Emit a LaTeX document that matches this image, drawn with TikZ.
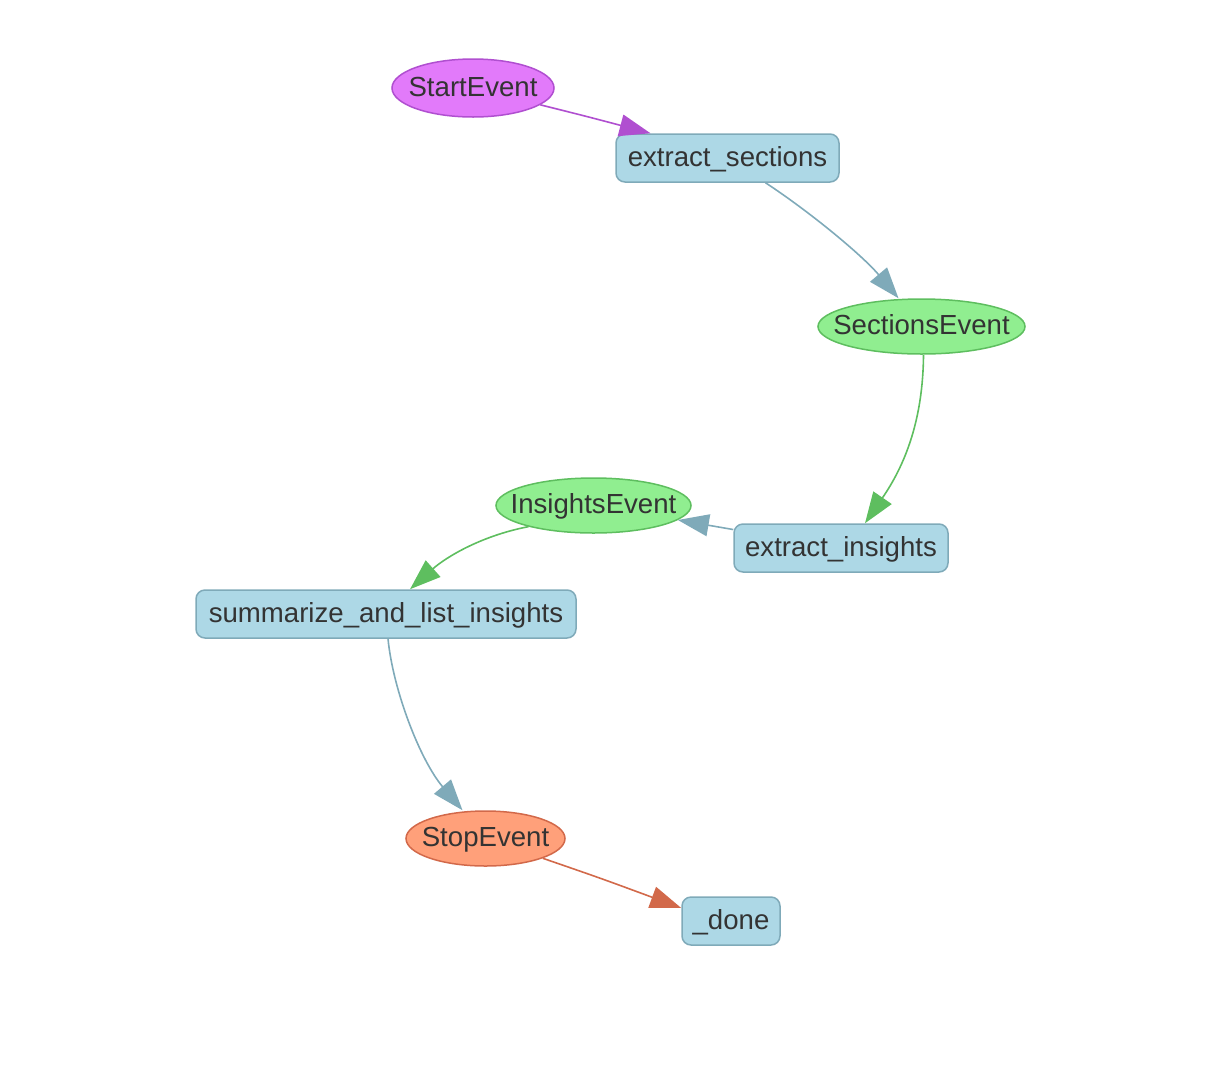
\documentclass[tikz,border=0pt]{standalone}
\usepackage{fontspec}
\setmainfont{Liberation Sans}
\usetikzlibrary{shapes.geometric,arrows.meta}
\definecolor{boxfill}{HTML}{ADD8E6}
\definecolor{boxline}{HTML}{7FAAB9}
\definecolor{startfill}{HTML}{E27AFA}
\definecolor{startline}{HTML}{B04FD0}
\definecolor{evfill}{HTML}{90EE90}
\definecolor{evline}{HTML}{5EBE5F}
\definecolor{stopfill}{HTML}{FFA07A}
\definecolor{stopline}{HTML}{D2694A}
\definecolor{txt}{HTML}{333333}
\begin{document}
\begin{tikzpicture}[x=1pt,y=-1pt,
  lbl/.style={inner sep=0pt, text height=20pt, text depth=4pt, text=txt,
    font=\fontsize{27.6}{33}\selectfont, line width=1.5pt},
  stepbox/.style={lbl, draw=boxline, fill=boxfill, rounded corners=9pt, minimum height=48pt},
  evt/.style={lbl, ellipse},
  startev/.style={evt, draw=startline, fill=startfill},
  midev/.style={evt, draw=evline, fill=evfill},
  stopev/.style={evt, draw=stopline, fill=stopfill},
  conn/.style={line width=1.6pt, -{Triangle[length=31pt,width=22pt]}}]
\useasboundingbox (0,0) rectangle (1218,1066);

\node[startev, minimum width=162pt, minimum height=58pt] (start) at (473,88) {\makebox[0pt]{StartEvent}};
\node[stepbox, minimum width=223pt] (ss) at (727.5,158) {extract\_sections};
\node[midev, minimum width=207pt, minimum height=55pt] (sev) at (921.5,326.5) {\makebox[0pt]{SectionsEvent}};
\node[stepbox, minimum width=214pt] (ei) at (841,548) {extract\_insights};
\node[midev, minimum width=195pt, minimum height=55pt] (iev) at (593.5,505.5) {\makebox[0pt]{InsightsEvent}};
\node[stepbox, minimum width=380pt] (summ) at (386,614) {summarize\_and\_list\_insights};
\node[stopev, minimum width=159pt, minimum height=55pt] (stop) at (485.5,838.5) {\makebox[0pt]{StopEvent}};
\node[stepbox, minimum width=98pt] (done) at (731,921) {\_done};

\draw[conn, draw=startline] (start) .. controls (585,116) .. ([xshift=-77pt]ss.north);
\draw[conn, draw=boxline] ([xshift=38pt]ss.south) .. controls (810,212) and (862,255) .. ([xshift=-23pt]sev.north);
\draw[conn, draw=evline] ([xshift=2pt]sev.south) .. controls (923,420) and (905,465) .. ([xshift=24pt]ei.north);
\draw[conn, draw=boxline] (ei) -- (iev);
\draw[conn, draw=evline] (iev.198) .. controls (480,536) and (445,558) .. ([xshift=24pt]summ.north);
\draw[conn, draw=boxline] ([xshift=2pt]summ.south) .. controls (393,690) and (420,760) .. ([xshift=-23pt]stop.north);
\draw[conn, draw=stopline] (stop) .. controls (600,878) .. ([yshift=13pt]done.west);
\end{tikzpicture}
\end{document}
